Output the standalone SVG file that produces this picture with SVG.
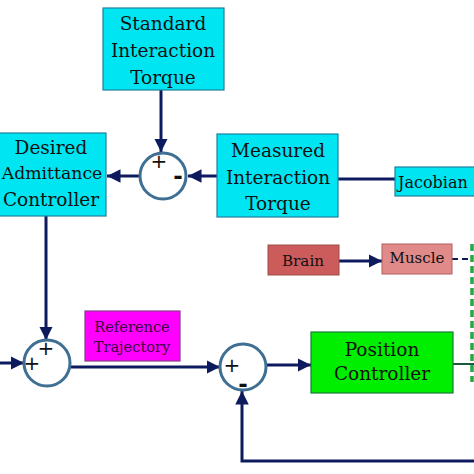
<svg xmlns="http://www.w3.org/2000/svg" width="474" height="474" viewBox="0 0 474 474">
<defs>
<style>
.box{fill:#00e5f2;stroke:#1f7f9f;stroke-width:1.2}
.t{font-family:"DejaVu Serif","Liberation Serif",serif;fill:#111;text-anchor:middle;dominant-baseline:central}
.sum{fill:#fff;stroke:#3f6f93;stroke-width:3}
.ln{stroke:#0e1a5e;stroke-width:3;fill:none}
.sg{font-family:"DejaVu Sans","Liberation Sans",sans-serif;font-size:20px;fill:#111;text-anchor:middle;dominant-baseline:central}
.mn{font-family:"DejaVu Sans","Liberation Sans",sans-serif;font-size:23px;font-weight:bold;fill:#111;text-anchor:middle;dominant-baseline:central}
</style>
<marker id="ah" viewBox="0 0 10 10" refX="10" refY="5" markerWidth="4.5" markerHeight="4.5" orient="auto" markerUnits="strokeWidth">
<path d="M0,0 L10,5 L0,10 Z" fill="#0e1a5e"/>
</marker>
</defs>
<rect width="474" height="474" fill="#fff"/>

<g id="connectors">
<line class="ln" x1="161" y1="90" x2="161" y2="152" marker-end="url(#ah)"/>
<line class="ln" x1="139" y1="176" x2="107" y2="176" marker-end="url(#ah)"/>
<line class="ln" x1="217" y1="176" x2="188" y2="176" marker-end="url(#ah)"/>
<line class="ln" x1="338" y1="179" x2="395" y2="179"/>
<line class="ln" x1="46" y1="216" x2="46" y2="340" marker-end="url(#ah)"/>
<line class="ln" x1="0" y1="363" x2="24" y2="363" marker-end="url(#ah)"/>
<line class="ln" x1="71" y1="367" x2="220" y2="367" marker-end="url(#ah)"/>
<line class="ln" x1="266" y1="365" x2="311" y2="365" marker-end="url(#ah)"/>
<line class="ln" x1="339" y1="261" x2="382" y2="261" marker-end="url(#ah)"/>
<line x1="452" y1="259" x2="472" y2="259" stroke="#0e1a5e" stroke-width="2" stroke-dasharray="6,4"/>
<line x1="472" y1="244" x2="472" y2="382" stroke="#22aa44" stroke-width="3.5" stroke-dasharray="7,4"/>
<line x1="453" y1="364" x2="474" y2="364" stroke="#1a5a3a" stroke-width="2"/>
<polyline class="ln" points="474,461 242,461 242,391" marker-end="url(#ah)"/>
</g>

<g id="standard">
<rect class="box" x="103" y="8" width="121" height="82"/>
<text class="t" x="163" y="23" font-size="18.5">Standard</text>
<text class="t" x="163" y="50" font-size="18.5">Interaction</text>
<text class="t" x="163" y="77" font-size="18.5">Torque</text>
</g>

<g id="desired">
<rect class="box" x="-2" y="133" width="108" height="83"/>
<text class="t" x="51" y="147" font-size="18.5">Desired</text>
<text class="t" x="52" y="173" font-size="17.3">Admittance</text>
<text class="t" x="51" y="199" font-size="18.5">Controller</text>
</g>

<g id="measured">
<rect class="box" x="217" y="134" width="121" height="83"/>
<text class="t" x="278" y="150" font-size="18.5">Measured</text>
<text class="t" x="278" y="177" font-size="18.5">Interaction</text>
<text class="t" x="278" y="203" font-size="18.5">Torque</text>
</g>

<g id="jacobian">
<rect class="box" x="395" y="167" width="84" height="29"/>
<text class="t" x="398" y="182" font-size="16" style="text-anchor:start">Jacobian</text>
</g>

<g id="sum1">
<circle class="sum" cx="163" cy="176" r="23"/>
<text class="sg" x="159" y="161">+</text>
<text class="mn" x="178" y="176">-</text>
</g>

<g id="sum2">
<circle class="sum" cx="47" cy="363" r="23"/>
<text class="sg" x="46" y="348">+</text>
<text class="sg" x="32" y="363">+</text>
</g>

<g id="sum3">
<circle class="sum" cx="243" cy="367" r="23"/>
<text class="sg" x="232" y="365">+</text>
<text class="mn" x="243" y="384">-</text>
</g>

<g id="reference">
<rect x="85" y="311" width="95" height="50" fill="#ff00ff" stroke="#8a3a8a" stroke-width="1.2"/>
<text class="t" x="132" y="326" font-size="14.6" style="fill:#3a0a40">Reference</text>
<text class="t" x="132" y="346" font-size="14.6" style="fill:#3a0a40">Trajectory</text>
</g>

<g id="brain">
<rect x="268" y="245" width="71" height="30" fill="#cc5c5c" stroke="#a04a4a" stroke-width="1"/>
<text class="t" x="303" y="261" font-size="15.2">Brain</text>
</g>

<g id="muscle">
<rect x="382" y="244" width="70" height="30" fill="#e08a8a" stroke="#b06060" stroke-width="1"/>
<text class="t" x="417" y="258" font-size="15">Muscle</text>
</g>

<g id="position">
<rect x="311" y="332" width="142" height="61" fill="#00ee00" stroke="#1a7a3a" stroke-width="1.2"/>
<text class="t" x="382" y="349" font-size="18.5">Position</text>
<text class="t" x="382" y="373" font-size="18.5">Controller</text>
</g>
</svg>
